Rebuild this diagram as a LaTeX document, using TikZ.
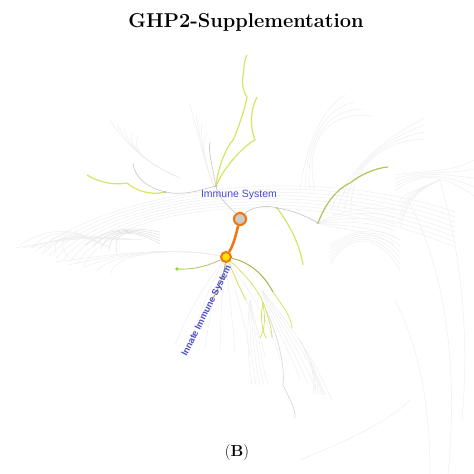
\documentclass[tikz,border=0pt]{standalone}
\usepackage{fontspec}
\newfontfamily\labfont{Liberation Sans}
\definecolor{ypale}{RGB}{214,228,100}
\definecolor{ydark}{RGB}{180,195,95}
\definecolor{olivel}{RGB}{160,165,100}
\definecolor{labblue}{RGB}{75,75,205}
\definecolor{orng}{RGB}{240,120,20}
\begin{document}
\begin{tikzpicture}[x=1pt,y=-1pt,
  faint/.style={draw=gray!13,line width=0.5pt},
  faintb/.style={draw=gray!22,line width=0.6pt},
  ybranch/.style={draw=ypale,line width=1.2pt},
  ythin/.style={draw=ypale,line width=0.8pt},
  gbranch/.style={draw=gray!40,line width=0.7pt},
  glab/.style={font=\labfont\fontsize{10.5}{12}\selectfont,text=labblue},
  hub/.style={circle,draw=orng,line width=2.2pt,inner sep=0pt,minimum size=12pt}]
\useasboundingbox (0,0) rectangle (474,474);
% title
\node[font=\bfseries\fontsize{20}{24}\selectfont] (title) at (246,22) {GHP2-Supplementation};
\node[font=\fontsize{16}{19}\selectfont] (blabel) at (237,453) {(\textbf{B})};

% ---------- faint background fans ----------
\foreach \i in {0,...,7}{
  \draw[faint] (35+\i*7,252+\i*2) .. controls (110,192+\i*2) and (300,160+\i*3) .. (455,212+\i*5);
}
\foreach \i in {0,...,4}{
  \draw[faint] (20+\i*12,245+\i*3) .. controls (50,225+\i*2) and (80,230) .. (90+\i*5,240+\i*2);
  \draw[faintb] (85+\i*8,245+\i*2) .. controls (110,225) and (140,228+\i) .. (160,232+\i*3);
  \draw[faint] (15+\i*8,248) .. controls (60,240-\i*2) and (90,236) .. (120+\i*6,240);
  \draw[faint] (55+\i*14,262+\i*3) .. controls (110,255) and (170,245) .. (226,257);
}
% upper left faint strands
\foreach \i in {0,...,4}{
  \draw[faint] (110+\i*7,120+\i*4) .. controls (130,150) and (150,165) .. (180,178);
}
\foreach \i in {0,...,3}{
  \draw[faint] (190+\i*6,105+\i*9) .. controls (200,140) and (205,165) .. (214,186);
}
% right top faint arcs
\foreach \i in {0,...,3}{
  \draw[faint] (300+\i*5,190) .. controls (305,150) and (320,110) .. (345+\i*9,95+\i*7);
  \draw[faint] (330+\i*7,210) .. controls (350,170) and (380,140) .. (425,118+\i*7);
}
% right cluster fans
\foreach \i in {0,...,5}{
  \draw[faint] (318,223) .. controls (340,210+\i*4) and (370,205+\i*5) .. (395,210+\i*7);
  \draw[faint] (330,245+\i*4) .. controls (350,230) and (380,225+\i*2) .. (400,240+\i*6);
}
\foreach \i in {0,...,4}{
  \draw[faint] (395,175+\i*4) .. controls (420,170) and (445,175) .. (474,160+\i*9);
  \draw[faint] (400,200+\i*7) .. controls (410,190) and (430,185) .. (440,180);
}
% big right arcs
\draw[faint] (408,200) .. controls (440,260) and (460,350) .. (448,474);
\draw[faint] (440,180) .. controls (460,250) and (470,330) .. (462,420);
\draw[faint] (395,300) .. controls (410,330) and (430,380) .. (430,474);
\draw[faint] (300,460) .. controls (350,440) and (390,420) .. (410,400);

% faint strands below innate node
\foreach \i in {0,...,7}{
  \draw[faint] (226,257) .. controls (200+\i*7,290) and (185+\i*12,320) .. (175+\i*15,345+\i*2);
}
\foreach \i in {0,...,4}{
  \draw[faint] (262,290) .. controls (270+\i*4,320) and (290+\i*5,350) .. (300+\i*8,380+\i*5);
  \draw[faint] (250,300) .. controls (245+\i*4,340) and (250+\i*3,370) .. (252+\i*4,385);
  \draw[faint] (300,340) .. controls (310,360) and (315,370) .. (313+\i*3,395);
}
\draw[gbranch,draw=gray!30] (266,310) .. controls (280,340) and (285,370) .. (283,385) .. controls (290,400) and (296,410) .. (295,418);

% ---------- named hubs ----------
\node[hub,fill=gray!40] (imm) at (240,219) {};
\node[hub,fill=yellow!85!orange,minimum size=10pt,line width=2pt] (inn) at (226,257) {};
\coordinate (j1) at (216,186);
\coordinate (j2) at (165,192);
\coordinate (j3) at (277,208);
\coordinate (j4) at (318,223);
\coordinate (tipA) at (247,55);
\coordinate (tipB) at (257,97);
\coordinate (tipL) at (87,175);
\coordinate (tipLg) at (133,163);
\coordinate (tipR) at (388,167);
\coordinate (tipRd) at (303,265);
\coordinate (dot) at (177,269);

% gray structure near Immune System
\draw[gbranch] (imm) .. controls (228,205) and (218,198) .. (j1);
\draw[gbranch] (j1) .. controls (200,190) and (185,196) .. (j2);
\draw[gbranch] (j2) .. controls (150,188) and (135,180) .. (tipLg);
\draw[gbranch] (j1) .. controls (212,165) and (208,150) .. (210,142);
\draw[gbranch] (imm) .. controls (250,208) and (265,204) .. (j3);
\draw[gbranch] (j3) .. controls (290,210) and (305,215) .. (j4);
% yellow branches
\draw[ybranch] (j1) .. controls (218,165) and (228,145) .. (233,140) .. controls (238,130) and (246,105) .. (247,97) .. controls (242,90) and (242,80) .. (243,77) .. controls (244,68) and (244,60) .. (tipA);
\draw[ybranch] (j1) .. controls (225,165) and (245,145) .. (255,140) .. controls (250,128) and (250,110) .. (tipB);
\draw[ybranch] (j2) .. controls (150,196) and (135,190) .. (127,183) .. controls (110,186) and (95,180) .. (tipL);
\draw[ybranch,draw=ydark] (j4) .. controls (325,205) and (335,190) .. (350,183) .. controls (360,175) and (375,168) .. (tipR);
\draw[ybranch] (j3) .. controls (290,225) and (300,245) .. (tipRd);
\fill[gray!50] (j1) circle (1.3pt) (j2) circle (1.3pt) (j4) circle (1.3pt) (j3) circle (1.2pt);

% innate branches
\draw[ythin,draw=ydark] (inn) .. controls (210,265) and (195,270) .. (dot);
\fill[lime!70!green!80!gray] (dot) circle (1.8pt);
\draw[ythin] (inn) .. controls (250,262) and (265,275) .. (273,292) .. controls (282,305) and (292,318) .. (292,328);
\draw[draw=olivel,line width=0.7pt] (inn) .. controls (248,262) and (262,272) .. (273,292);
\draw[ythin] (inn) .. controls (240,270) and (255,285) .. (262,300) .. controls (266,315) and (265,330) .. (260,338);
\draw[ythin] (263,302) .. controls (268,315) and (272,330) .. (272,338);
\draw[ythin] (263,302) .. controls (260,318) and (262,330) .. (266,338);
\draw[ythin,draw=olivel] (inn) .. controls (224,275) and (218,290) .. (212,300);
\draw[ythin] (inn) .. controls (233,272) and (240,290) .. (246,300);

% orange link between hubs
\draw[draw=orng,line width=2.6pt] (imm) .. controls (236,234) and (234,244) .. (inn);

% labels
\node[glab] (immlab) at (239,195) {Immune System};
\node[glab,font=\labfont\bfseries\fontsize{9.2}{11}\selectfont,rotate=63.5] (innlab) at (207,311) {Innate Immune System};
\end{tikzpicture}
\end{document}
